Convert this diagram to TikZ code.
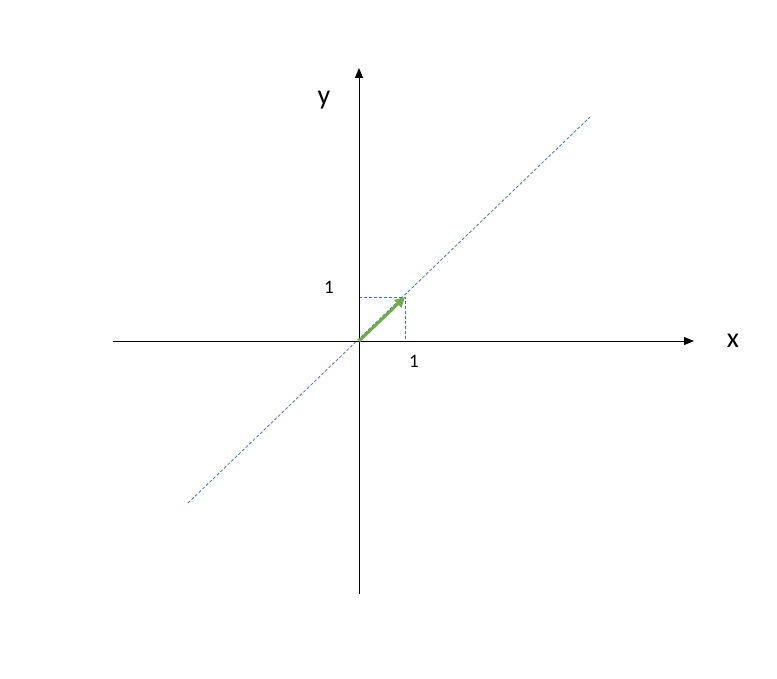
\documentclass[tikz,border=0pt]{standalone}
\usepackage{fontspec}
\setmainfont{Carlito}
\usetikzlibrary{arrows.meta}
\definecolor{dashblue}{HTML}{4472C4}
\definecolor{vecgreen}{HTML}{70AD47}
\tikzset{
  axis/.style={line width=1pt,-{Triangle[length=10pt,width=8pt]}},
  guide/.style={dashblue,line width=0.8pt,dash pattern=on 3pt off 2pt},
  vec/.style={vecgreen,line width=3pt,-{Triangle[length=10pt,width=10pt]}},
  biglbl/.style={font=\fontsize{28}{30}\selectfont,anchor=base,inner sep=0pt},
  smalllbl/.style={font=\fontsize{19}{21}\selectfont,anchor=base,inner sep=0pt}
}
\begin{document}
\begin{tikzpicture}[x=1pt,y=-1pt]
\useasboundingbox (0,0) rectangle (777,679);
\coordinate (O) at (359,341);
\coordinate (xl) at (113,341);
\coordinate (xr) at (694,341);
\coordinate (yb) at (359,594);
\coordinate (yt) at (359,68);
\coordinate (d1) at (188,503);
\coordinate (d2) at (590,117);
\coordinate (P) at (405,297);
\coordinate (Py) at (359,297);
\coordinate (Px) at (405,341);
\draw[guide] (d1) -- (d2);
\draw[guide] (Py) -- (P) -- (Px);
\draw[axis] (xl) -- (xr);
\draw[axis] (yb) -- (yt);
\draw[vec] (O) -- (P);
\node[biglbl] (ylab) at (324,105) {y};
\node[biglbl] (xlab) at (733,348) {x};
\node[smalllbl] (one1) at (329,294) {1};
\node[smalllbl] (one2) at (414,367) {1};
\end{tikzpicture}
\end{document}
